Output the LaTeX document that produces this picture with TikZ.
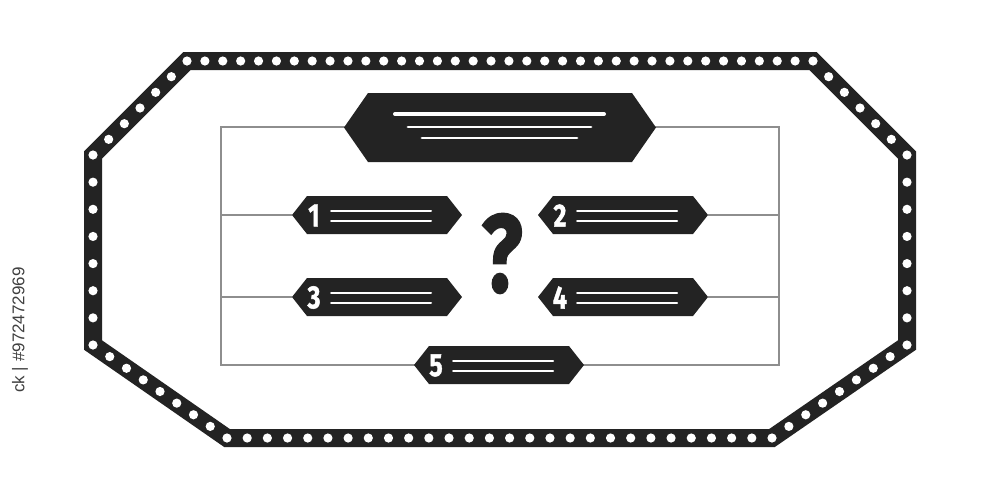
\documentclass[tikz,border=0pt]{standalone}
\usepackage{fontspec}
\setmainfont{Fira Sans}
\newfontfamily\heavyfont{Fira Sans}[BoldFeatures={FakeBold=1.6}]
\newfontfamily\wmfont{Liberation Sans}
\usetikzlibrary{calc}
\definecolor{ink}{HTML}{232323}
\definecolor{rulegray}{HTML}{8E8E8E}
\newcommand\tagshape[6]{%
  \node[anchorbox,minimum width=#4,minimum height=#5] (#1) at (#2,#3) {};
  \fill[tag] (#1.west) -- ($(#1.north west)+(#6,0)$) -- ($(#1.north east)+(-#6,0)$)
    -- (#1.east) -- ($(#1.south east)+(-#6,0)$) -- ($(#1.south west)+(#6,0)$) -- cycle;}
\newcommand\smalltag[4]{% name, cx, cy, number
  \tagshape{#1}{#2}{#3}{85pt}{19pt}{15}
  \node[num] (#1n) at ($(#1.center)+(-63,0.5)$) {\scalebox{0.78}[1]{#4}};
  \draw[slot] ($(#1.center)+(-46,-4.5)$) -- ($(#1.center)+(54,-4.5)$);
  \draw[slot] ($(#1.center)+(-46,5.5)$) -- ($(#1.center)+(54,5.5)$);}
\begin{document}
\begin{tikzpicture}[x=0.5pt,y=-0.5pt,
  band/.style={draw=ink,line width=9pt,line join=miter},
  hole/.style={fill=white},
  guide/.style={draw=rulegray,line width=0.6pt},
  slot/.style={draw=white,line width=1pt,line cap=round},
  tag/.style={fill=ink},
  anchorbox/.style={rectangle,inner sep=0pt,outer sep=0pt,draw=none},
  num/.style={text=white,font=\heavyfont\fontsize{16}{16}\selectfont\bfseries,inner sep=0pt},
]
\useasboundingbox (0,0) rectangle (1000,500);
\fill[white] (0,0) rectangle (1000,500);

% octagonal marquee frame
\coordinate (o1) at (187,61);
\coordinate (o2) at (813,61);
\coordinate (o3) at (907,155);
\coordinate (o4) at (907,345);
\coordinate (o5) at (772,438);
\coordinate (o6) at (227,438);
\coordinate (o7) at (93,345);
\coordinate (o8) at (93,155);
\draw[band] (o1) -- (o2) -- (o3) -- (o4) -- (o5) -- (o6) -- (o7) -- (o8) -- cycle;
\foreach \a/\b/\n/\m in {o1/o2/35/34, o2/o3/6/5, o3/o4/7/6, o4/o5/8/7,
                         o5/o6/27/26, o6/o7/8/7, o7/o8/7/6, o8/o1/6/5}{
  \foreach \i [evaluate=\i as \t using \i/\n] in {0,...,\m}
    \fill[hole] ($(\a)!\t!(\b)$) circle (2.3pt);
}

% inner panel
\node[anchorbox,draw=rulegray,line width=0.6pt,minimum width=279pt,minimum height=119pt] (panel) at (500,246) {};

% title banner
\tagshape{title}{500}{127.5}{156pt}{34.5pt}{24}
\draw[white,line width=2pt,line cap=round] ($(title.center)+(-105,-13.5)$) -- ($(title.center)+(104,-13.5)$);
\draw[white,line width=1.4pt,line cap=round] ($(title.center)+(-92,-0.5)$) -- ($(title.center)+(91,-0.5)$);
\draw[white,line width=1.4pt,line cap=round] ($(title.center)+(-78,10.5)$) -- ($(title.center)+(77,10.5)$);

% option banners
\smalltag{q1}{377}{215}{1}
\smalltag{q2}{623}{215}{2}
\smalltag{q3}{377}{297}{3}
\smalltag{q4}{623}{297}{4}
\smalltag{q5}{499}{365}{5}

% connectors
\draw[guide] (panel.west |- q1.west) -- (q1.west);
\draw[guide] (q2.east) -- (panel.east |- q2.east);
\draw[guide] (panel.west |- q3.west) -- (q3.west);
\draw[guide] (q4.east) -- (panel.east |- q4.east);

% question mark
\node[font=\heavyfont\fontsize{55}{55}\selectfont\bfseries,text=ink,inner sep=0pt] (qmark) at (502,253.5) {\scalebox{0.78}[1]{?}};

% side watermark id
\node[rotate=90,font=\wmfont\fontsize{8.5}{8.5}\selectfont,text=black!75,inner sep=0pt] (wm) at (20,330) {ck | \#972472969};
\end{tikzpicture}
\end{document}
